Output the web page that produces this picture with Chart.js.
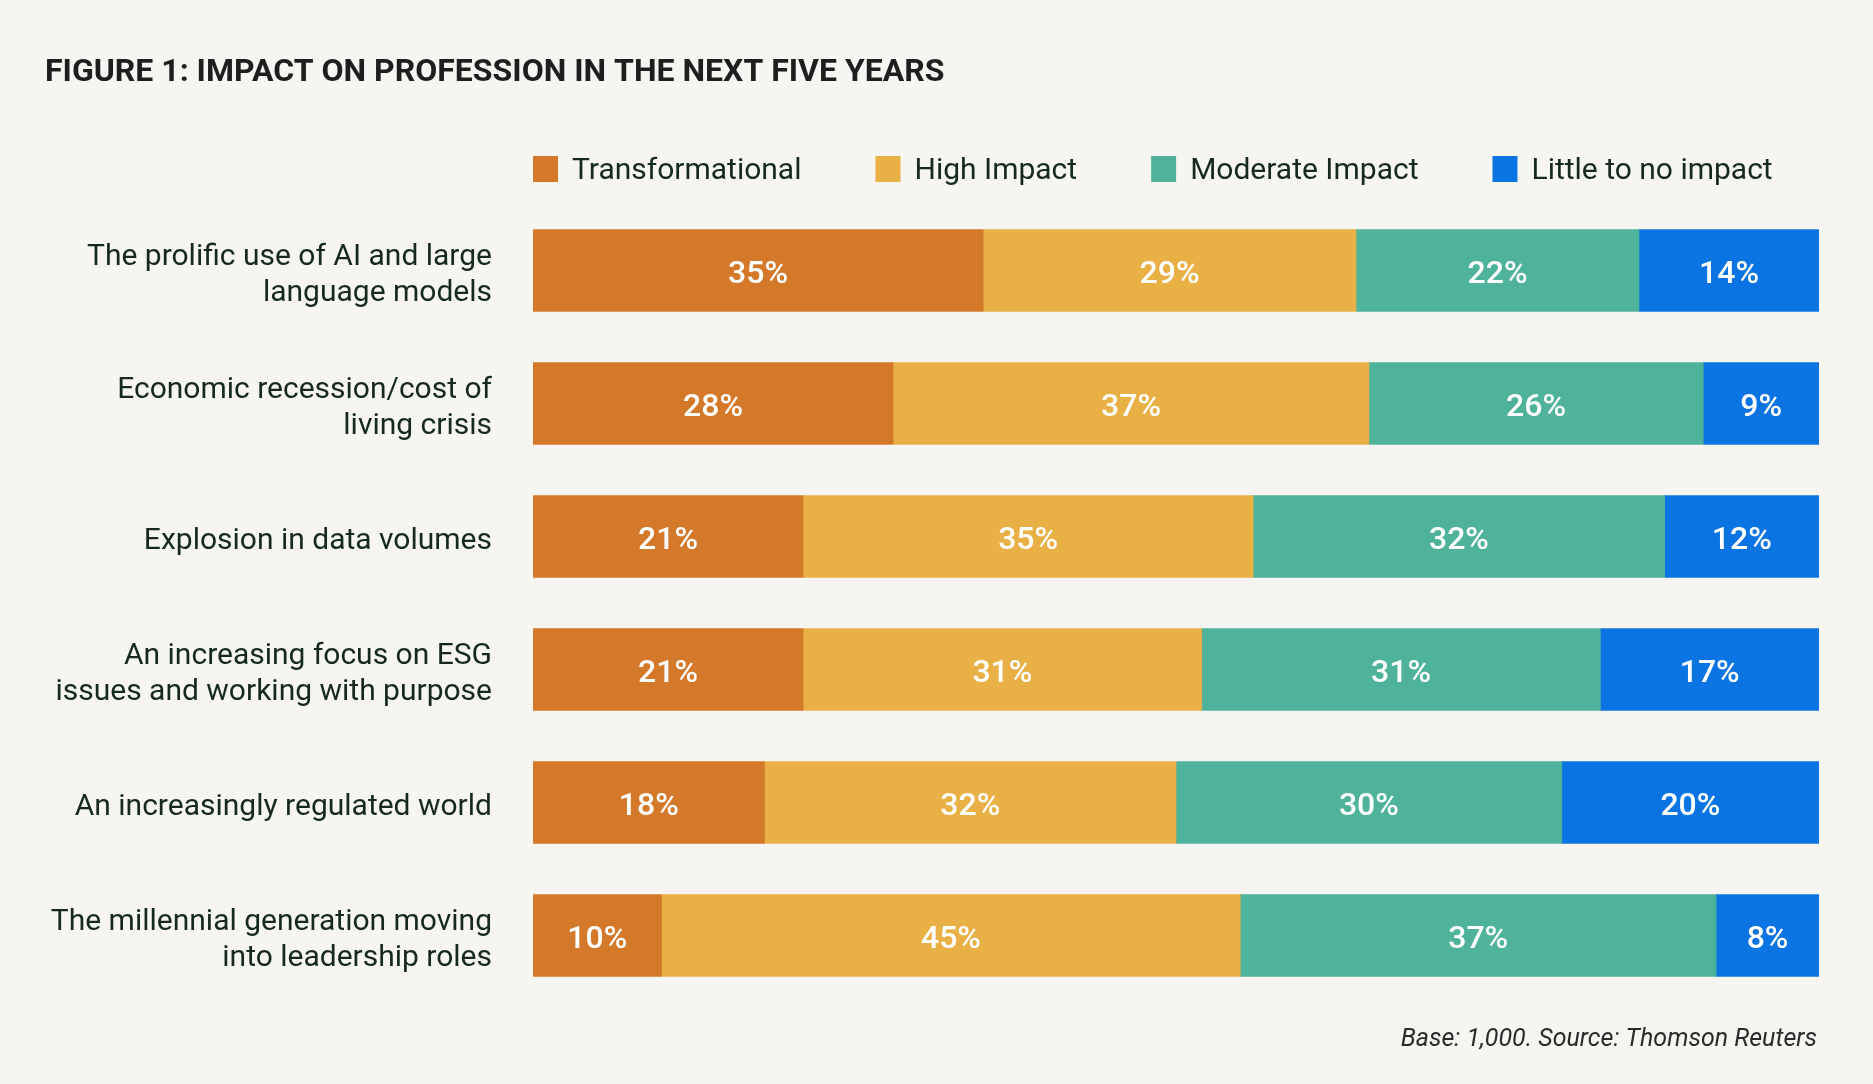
<!DOCTYPE html>
<html>
<head>
<meta charset="utf-8">
<script src="https://cdn.jsdelivr.net/npm/chart.js@4.4.1/dist/chart.umd.min.js"></script>
<style>
  html, body { margin: 0; padding: 0; background: #f7f5f1; }
  canvas { display: block; }
</style>
</head>
<body>
<canvas id="chart" width="1873" height="1084"></canvas>
<script>
// categories (multi-line labels as in the figure)
const categories = [
  ["The prolific use of AI and large", "language models"],
  ["Economic recession/cost of", "living crisis"],
  ["Explosion in data volumes"],
  ["An increasing focus on ESG", "issues and working with purpose"],
  ["An increasingly regulated world"],
  ["The millennial generation moving", "into leadership roles"]
];

const seriesNames = ["Transformational", "High Impact", "Moderate Impact", "Little to no impact"];
const transformational = [35, 28, 21, 21, 18, 10];
const highImpact       = [29, 37, 35, 31, 32, 45];
const moderateImpact   = [22, 26, 32, 31, 30, 37];
const littleImpact     = [14, 9, 12, 17, 20, 8];
const seriesColors = ["#d4782a", "#e9b045", "#4fb29a", "#0b74e3"];

const titleText = "FIGURE 1: IMPACT ON PROFESSION IN THE NEXT FIVE YEARS";
const sourceText = "Base: 1,000. Source: Thomson Reuters";

const textColor = "#15291f";

// draws the title, legend, footer and the % labels inside the bars
const decorations = {
  id: "decorations",
  afterDatasetsDraw(chart) {
    const ctx = chart.ctx;
    ctx.save();

    // % labels
    ctx.fillStyle = "#ffffff";
    ctx.font = "500 32px Roboto";
    ctx.textAlign = "center";
    ctx.textBaseline = "middle";
    chart.data.datasets.forEach((ds, i) => {
      const meta = chart.getDatasetMeta(i);
      meta.data.forEach((bar, j) => {
        const x = (bar.x + bar.base) / 2;
        ctx.fillText(ds.data[j] + "%", x, bar.y + 4);
      });
    });

    // title
    ctx.fillStyle = "#1e1e1e";
    ctx.font = "bold 32px Roboto";
    ctx.textAlign = "left";
    ctx.textBaseline = "middle";
    ctx.fillText(titleText, 45, 73, 902);

    // legend
    ctx.font = "30px Roboto";
    let x = chart.chartArea.left;
    const ly = 169;
    chart.data.datasets.forEach((ds) => {
      ctx.fillStyle = ds.backgroundColor;
      ctx.fillRect(x, ly - 13, 25, 26);
      ctx.fillStyle = textColor;
      ctx.fillText(ds.label, x + 39, ly + 2);
      x += 39 + ctx.measureText(ds.label).width + 74;
    });

    // footer
    ctx.fillStyle = "#2a2a2a";
    ctx.font = "italic 25px Roboto";
    ctx.textAlign = "right";
    ctx.fillText(sourceText, chart.chartArea.right - 2, 1040);

    ctx.restore();
  }
};

const ctx = document.getElementById("chart").getContext("2d");
new Chart(ctx, {
  type: "bar",
  data: {
    labels: categories,
    datasets: [
      { label: seriesNames[0], data: transformational, backgroundColor: seriesColors[0] },
      { label: seriesNames[1], data: highImpact, backgroundColor: seriesColors[1] },
      { label: seriesNames[2], data: moderateImpact, backgroundColor: seriesColors[2] },
      { label: seriesNames[3], data: littleImpact, backgroundColor: seriesColors[3] }
    ]
  },
  options: {
    indexAxis: "y",
    responsive: false,
    animation: false,
    devicePixelRatio: 1,
    layout: {
      padding: { top: 204, bottom: 82, left: 45, right: 54 }
    },
    datasets: {
      bar: { barThickness: 82, borderWidth: 0 }
    },
    plugins: {
      legend: { display: false },
      title: { display: false },
      tooltip: { enabled: false }
    },
    scales: {
      x: {
        stacked: true,
        min: 0,
        max: 100,
        display: false
      },
      y: {
        stacked: true,
        grid: { display: false },
        border: { display: false },
        afterFit(scale) { scale.width = 488; },
        ticks: {
          color: textColor,
          padding: 33,
          labelOffset: 5,
          font: { family: "Roboto", size: 30, lineHeight: 1.17 }
        }
      }
    }
  },
  plugins: [decorations]
});
</script>
</body>
</html>
